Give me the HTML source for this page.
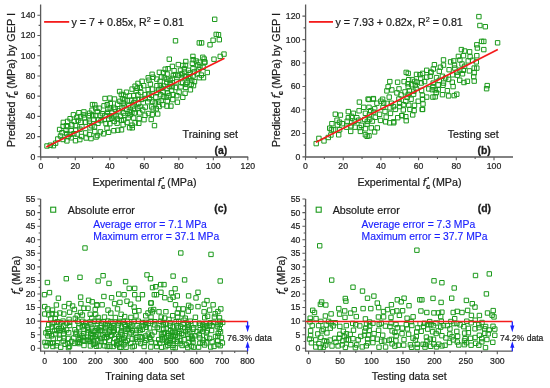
<!DOCTYPE html>
<html><head><meta charset="utf-8"><style>
html,body{margin:0;padding:0;background:#fff;width:550px;height:388px;overflow:hidden}
svg{display:block;will-change:transform}
text{font-family:"Liberation Sans",sans-serif;fill:#1c1c1c;stroke:#1c1c1c;stroke-width:0.2px}
.tk{font-size:8.7px;stroke-width:0.2px}
.ti{font-size:10.7px;stroke-width:0.22px}
.lb{font-size:10.4px;font-weight:bold;stroke-width:0.3px}
.bl{font-size:10.38px;fill:#1c22ff;stroke:#1c22ff;stroke-width:0.15px}
.sm{font-size:8.5px}
</style></head><body>
<svg width="550" height="388" viewBox="0 0 550 388">
<path d="M102.2 117.3h4.4v4.4h-4.4zM121.4 92.9h4.4v4.4h-4.4zM76.7 110.5h4.4v4.4h-4.4zM176.1 73.3h4.4v4.4h-4.4zM73.3 138.5h4.4v4.4h-4.4zM141.5 83.5h4.4v4.4h-4.4zM108.1 101.5h4.4v4.4h-4.4zM132.5 106.8h4.4v4.4h-4.4zM58.3 133.8h4.4v4.4h-4.4zM151.0 106.8h4.4v4.4h-4.4zM92.6 102.7h4.4v4.4h-4.4zM79.7 124.5h4.4v4.4h-4.4zM168.7 103.9h4.4v4.4h-4.4zM157.9 79.2h4.4v4.4h-4.4zM69.7 122.6h4.4v4.4h-4.4zM121.4 117.6h4.4v4.4h-4.4zM91.3 117.2h4.4v4.4h-4.4zM159.0 98.4h4.4v4.4h-4.4zM124.5 107.1h4.4v4.4h-4.4zM165.5 90.9h4.4v4.4h-4.4zM137.0 116.4h4.4v4.4h-4.4zM127.4 125.5h4.4v4.4h-4.4zM167.9 81.6h4.4v4.4h-4.4zM186.7 76.6h4.4v4.4h-4.4zM121.0 101.0h4.4v4.4h-4.4zM129.9 86.9h4.4v4.4h-4.4zM127.9 112.6h4.4v4.4h-4.4zM138.6 90.3h4.4v4.4h-4.4zM183.6 59.3h4.4v4.4h-4.4zM149.9 87.0h4.4v4.4h-4.4zM111.7 113.8h4.4v4.4h-4.4zM87.8 125.6h4.4v4.4h-4.4zM75.8 118.3h4.4v4.4h-4.4zM197.2 75.5h4.4v4.4h-4.4zM176.1 62.4h4.4v4.4h-4.4zM173.2 85.3h4.4v4.4h-4.4zM170.2 76.2h4.4v4.4h-4.4zM165.1 98.8h4.4v4.4h-4.4zM129.4 98.2h4.4v4.4h-4.4zM150.8 75.0h4.4v4.4h-4.4zM114.9 121.0h4.4v4.4h-4.4zM149.2 93.1h4.4v4.4h-4.4zM83.4 130.7h4.4v4.4h-4.4zM143.1 104.9h4.4v4.4h-4.4zM126.7 103.6h4.4v4.4h-4.4zM63.8 128.1h4.4v4.4h-4.4zM71.2 112.6h4.4v4.4h-4.4zM107.6 121.5h4.4v4.4h-4.4zM145.5 99.6h4.4v4.4h-4.4zM137.5 110.7h4.4v4.4h-4.4zM164.7 86.3h4.4v4.4h-4.4zM157.2 70.1h4.4v4.4h-4.4zM164.8 77.0h4.4v4.4h-4.4zM105.3 110.2h4.4v4.4h-4.4zM180.4 80.8h4.4v4.4h-4.4zM182.0 73.8h4.4v4.4h-4.4zM186.2 68.1h4.4v4.4h-4.4zM88.8 136.4h4.4v4.4h-4.4zM102.8 96.3h4.4v4.4h-4.4zM111.7 128.5h4.4v4.4h-4.4zM180.6 95.1h4.4v4.4h-4.4zM146.3 111.3h4.4v4.4h-4.4zM116.5 108.7h4.4v4.4h-4.4zM112.3 96.8h4.4v4.4h-4.4zM95.8 121.1h4.4v4.4h-4.4zM132.9 84.0h4.4v4.4h-4.4zM136.5 101.2h4.4v4.4h-4.4zM160.7 89.4h4.4v4.4h-4.4zM176.9 89.9h4.4v4.4h-4.4zM153.1 100.7h4.4v4.4h-4.4zM101.4 131.6h4.4v4.4h-4.4zM73.3 123.5h4.4v4.4h-4.4zM160.5 102.5h4.4v4.4h-4.4zM138.2 85.2h4.4v4.4h-4.4zM192.3 79.5h4.4v4.4h-4.4zM82.2 115.6h4.4v4.4h-4.4zM170.9 92.4h4.4v4.4h-4.4zM92.3 124.6h4.4v4.4h-4.4zM178.3 68.0h4.4v4.4h-4.4zM154.7 83.5h4.4v4.4h-4.4zM93.6 113.3h4.4v4.4h-4.4zM74.9 131.9h4.4v4.4h-4.4zM65.9 134.3h4.4v4.4h-4.4zM127.3 93.6h4.4v4.4h-4.4zM120.3 96.4h4.4v4.4h-4.4zM60.8 137.3h4.4v4.4h-4.4zM164.9 71.9h4.4v4.4h-4.4zM89.8 108.0h4.4v4.4h-4.4zM195.2 71.8h4.4v4.4h-4.4zM96.9 106.0h4.4v4.4h-4.4zM87.0 113.4h4.4v4.4h-4.4zM106.4 130.1h4.4v4.4h-4.4zM170.6 97.4h4.4v4.4h-4.4zM112.1 119.2h4.4v4.4h-4.4zM154.5 76.9h4.4v4.4h-4.4zM132.8 98.0h4.4v4.4h-4.4zM115.2 116.8h4.4v4.4h-4.4zM69.0 128.5h4.4v4.4h-4.4zM175.2 100.0h4.4v4.4h-4.4zM126.0 115.5h4.4v4.4h-4.4zM67.9 116.5h4.4v4.4h-4.4zM121.3 110.9h4.4v4.4h-4.4zM101.8 103.6h4.4v4.4h-4.4zM163.0 67.0h4.4v4.4h-4.4zM178.7 84.6h4.4v4.4h-4.4zM61.1 120.2h4.4v4.4h-4.4zM158.4 92.5h4.4v4.4h-4.4zM100.2 111.5h4.4v4.4h-4.4zM142.9 96.2h4.4v4.4h-4.4zM147.3 96.5h4.4v4.4h-4.4zM81.7 109.7h4.4v4.4h-4.4zM161.4 83.8h4.4v4.4h-4.4zM188.2 87.6h4.4v4.4h-4.4zM98.2 129.7h4.4v4.4h-4.4zM132.9 120.6h4.4v4.4h-4.4zM119.3 127.6h4.4v4.4h-4.4zM183.5 85.2h4.4v4.4h-4.4zM135.5 106.2h4.4v4.4h-4.4zM156.4 87.7h4.4v4.4h-4.4zM65.4 124.4h4.4v4.4h-4.4zM201.3 75.5h4.4v4.4h-4.4zM108.0 105.8h4.4v4.4h-4.4zM190.8 73.8h4.4v4.4h-4.4zM64.2 123.5h4.4v4.4h-4.4zM150.4 99.3h4.4v4.4h-4.4zM103.8 121.4h4.4v4.4h-4.4zM167.9 78.2h4.4v4.4h-4.4zM200.9 65.1h4.4v4.4h-4.4zM87.4 121.0h4.4v4.4h-4.4zM142.8 113.1h4.4v4.4h-4.4zM156.4 99.7h4.4v4.4h-4.4zM72.0 119.2h4.4v4.4h-4.4zM111.5 105.2h4.4v4.4h-4.4zM179.2 75.4h4.4v4.4h-4.4zM124.3 90.0h4.4v4.4h-4.4zM182.9 91.1h4.4v4.4h-4.4zM131.4 115.8h4.4v4.4h-4.4zM84.0 135.8h4.4v4.4h-4.4zM119.8 106.0h4.4v4.4h-4.4zM153.6 95.0h4.4v4.4h-4.4zM165.9 66.5h4.4v4.4h-4.4zM183.5 82.2h4.4v4.4h-4.4zM137.9 104.3h4.4v4.4h-4.4zM154.1 106.6h4.4v4.4h-4.4zM97.9 113.1h4.4v4.4h-4.4zM140.5 107.8h4.4v4.4h-4.4zM142.8 92.4h4.4v4.4h-4.4zM191.3 83.4h4.4v4.4h-4.4zM106.5 116.7h4.4v4.4h-4.4zM83.5 120.0h4.4v4.4h-4.4zM174.4 79.7h4.4v4.4h-4.4zM125.3 98.4h4.4v4.4h-4.4zM183.3 63.1h4.4v4.4h-4.4zM171.9 68.5h4.4v4.4h-4.4zM146.0 87.4h4.4v4.4h-4.4zM158.1 83.1h4.4v4.4h-4.4zM132.3 110.8h4.4v4.4h-4.4zM155.5 111.8h4.4v4.4h-4.4zM95.3 133.3h4.4v4.4h-4.4zM139.5 97.2h4.4v4.4h-4.4zM120.9 122.5h4.4v4.4h-4.4zM93.5 105.9h4.4v4.4h-4.4zM115.4 102.1h4.4v4.4h-4.4zM171.1 73.3h4.4v4.4h-4.4zM87.3 132.4h4.4v4.4h-4.4zM74.7 115.2h4.4v4.4h-4.4zM104.8 126.0h4.4v4.4h-4.4zM161.3 94.6h4.4v4.4h-4.4zM78.4 114.4h4.4v4.4h-4.4zM174.6 93.5h4.4v4.4h-4.4zM64.7 138.7h4.4v4.4h-4.4zM89.7 123.6h4.4v4.4h-4.4zM59.8 130.5h4.4v4.4h-4.4zM136.6 121.1h4.4v4.4h-4.4zM167.2 84.3h4.4v4.4h-4.4zM156.9 104.3h4.4v4.4h-4.4zM102.9 113.4h4.4v4.4h-4.4zM164.8 103.9h4.4v4.4h-4.4zM141.8 117.5h4.4v4.4h-4.4zM162.2 75.7h4.4v4.4h-4.4zM55.6 136.8h4.4v4.4h-4.4zM96.4 117.7h4.4v4.4h-4.4zM71.7 131.5h4.4v4.4h-4.4zM182.4 69.8h4.4v4.4h-4.4zM107.7 95.9h4.4v4.4h-4.4zM188.0 70.8h4.4v4.4h-4.4zM105.0 102.5h4.4v4.4h-4.4zM131.6 100.7h4.4v4.4h-4.4zM196.9 60.0h4.4v4.4h-4.4zM154.7 90.1h4.4v4.4h-4.4zM187.7 74.6h4.4v4.4h-4.4zM149.4 104.7h4.4v4.4h-4.4zM200.6 55.1h4.4v4.4h-4.4zM191.9 69.7h4.4v4.4h-4.4zM173.4 72.4h4.4v4.4h-4.4zM149.0 117.3h4.4v4.4h-4.4zM131.5 93.4h4.4v4.4h-4.4zM64.5 131.4h4.4v4.4h-4.4zM146.0 75.6h4.4v4.4h-4.4zM78.5 120.2h4.4v4.4h-4.4zM182.2 66.6h4.4v4.4h-4.4zM109.7 116.1h4.4v4.4h-4.4zM170.2 64.2h4.4v4.4h-4.4zM122.7 97.7h4.4v4.4h-4.4zM118.3 114.1h4.4v4.4h-4.4zM166.8 93.4h4.4v4.4h-4.4zM92.6 129.4h4.4v4.4h-4.4zM161.1 70.4h4.4v4.4h-4.4zM90.5 113.6h4.4v4.4h-4.4zM81.4 112.7h4.4v4.4h-4.4zM136.3 97.3h4.4v4.4h-4.4zM124.9 120.3h4.4v4.4h-4.4zM57.4 127.3h4.4v4.4h-4.4zM159.2 86.0h4.4v4.4h-4.4zM184.9 80.1h4.4v4.4h-4.4zM115.6 128.0h4.4v4.4h-4.4zM191.0 57.5h4.4v4.4h-4.4zM95.2 109.4h4.4v4.4h-4.4zM117.4 89.3h4.4v4.4h-4.4zM189.5 78.3h4.4v4.4h-4.4zM164.6 80.0h4.4v4.4h-4.4zM93.9 134.8h4.4v4.4h-4.4zM148.2 81.9h4.4v4.4h-4.4zM130.6 103.8h4.4v4.4h-4.4zM77.6 137.4h4.4v4.4h-4.4zM67.9 132.2h4.4v4.4h-4.4zM117.7 99.1h4.4v4.4h-4.4zM60.9 124.1h4.4v4.4h-4.4zM87.2 118.9h4.4v4.4h-4.4zM139.9 79.1h4.4v4.4h-4.4zM119.1 92.2h4.4v4.4h-4.4zM109.6 110.9h4.4v4.4h-4.4zM159.3 74.9h4.4v4.4h-4.4zM107.5 113.6h4.4v4.4h-4.4zM180.6 63.3h4.4v4.4h-4.4zM146.8 78.0h4.4v4.4h-4.4zM189.0 82.2h4.4v4.4h-4.4zM90.3 102.4h4.4v4.4h-4.4zM129.9 123.0h4.4v4.4h-4.4zM113.8 113.7h4.4v4.4h-4.4zM122.0 103.8h4.4v4.4h-4.4zM129.7 110.2h4.4v4.4h-4.4zM179.6 71.7h4.4v4.4h-4.4zM77.8 127.0h4.4v4.4h-4.4zM87.4 111.0h4.4v4.4h-4.4zM105.7 107.1h4.4v4.4h-4.4zM169.4 88.2h4.4v4.4h-4.4zM133.9 88.8h4.4v4.4h-4.4zM170.0 84.5h4.4v4.4h-4.4zM135.8 81.2h4.4v4.4h-4.4zM130.1 125.6h4.4v4.4h-4.4zM199.2 72.9h4.4v4.4h-4.4zM73.6 127.9h4.4v4.4h-4.4zM135.1 86.1h4.4v4.4h-4.4zM150.0 112.4h4.4v4.4h-4.4zM98.9 118.4h4.4v4.4h-4.4zM69.0 135.6h4.4v4.4h-4.4zM119.0 118.0h4.4v4.4h-4.4zM122.7 113.3h4.4v4.4h-4.4zM164.3 95.0h4.4v4.4h-4.4zM79.4 134.3h4.4v4.4h-4.4zM196.6 67.4h4.4v4.4h-4.4zM135.7 92.7h4.4v4.4h-4.4zM149.9 72.1h4.4v4.4h-4.4zM65.4 119.2h4.4v4.4h-4.4zM202.0 56.8h4.4v4.4h-4.4zM127.1 109.4h4.4v4.4h-4.4zM146.6 92.1h4.4v4.4h-4.4zM184.1 74.6h4.4v4.4h-4.4zM113.0 106.9h4.4v4.4h-4.4zM212.5 17.1h4.4v4.4h-4.4zM214.0 32.2h4.4v4.4h-4.4zM216.3 32.5h4.4v4.4h-4.4zM210.9 38.0h4.4v4.4h-4.4zM217.1 37.5h4.4v4.4h-4.4zM207.8 42.6h4.4v4.4h-4.4zM197.1 40.7h4.4v4.4h-4.4zM199.4 40.7h4.4v4.4h-4.4zM211.8 57.0h4.4v4.4h-4.4zM218.0 54.2h4.4v4.4h-4.4zM221.8 51.9h4.4v4.4h-4.4zM173.3 38.6h4.4v4.4h-4.4zM152.3 123.4h4.4v4.4h-4.4zM167.1 57.0h4.4v4.4h-4.4zM190.7 54.2h4.4v4.4h-4.4zM194.0 58.8h4.4v4.4h-4.4zM190.2 61.1h4.4v4.4h-4.4zM195.6 62.7h4.4v4.4h-4.4zM202.5 59.6h4.4v4.4h-4.4zM197.8 65.0h4.4v4.4h-4.4zM190.7 66.6h4.4v4.4h-4.4zM205.1 70.3h4.4v4.4h-4.4zM202.6 60.2h4.4v4.4h-4.4zM44.8 143.8h4.4v4.4h-4.4zM48.1 143.0h4.4v4.4h-4.4zM51.2 143.5h4.4v4.4h-4.4zM53.4 141.0h4.4v4.4h-4.4z" fill="none" stroke="#1c9a1c" stroke-width="1.0"/>
<path d="M411.4 92.0h4.4v4.4h-4.4zM431.1 66.8h4.4v4.4h-4.4zM406.1 92.2h4.4v4.4h-4.4zM364.9 121.9h4.4v4.4h-4.4zM457.5 78.0h4.4v4.4h-4.4zM413.9 86.1h4.4v4.4h-4.4zM415.0 80.0h4.4v4.4h-4.4zM420.2 93.1h4.4v4.4h-4.4zM434.3 75.4h4.4v4.4h-4.4zM408.9 97.0h4.4v4.4h-4.4zM406.6 103.0h4.4v4.4h-4.4zM410.5 112.7h4.4v4.4h-4.4zM372.5 106.6h4.4v4.4h-4.4zM401.1 107.7h4.4v4.4h-4.4zM460.3 71.6h4.4v4.4h-4.4zM470.4 58.1h4.4v4.4h-4.4zM465.2 79.1h4.4v4.4h-4.4zM446.9 67.5h4.4v4.4h-4.4zM373.1 115.1h4.4v4.4h-4.4zM371.4 109.9h4.4v4.4h-4.4zM412.3 103.1h4.4v4.4h-4.4zM396.7 96.8h4.4v4.4h-4.4zM436.0 82.7h4.4v4.4h-4.4zM349.4 114.2h4.4v4.4h-4.4zM395.4 80.0h4.4v4.4h-4.4zM424.5 74.9h4.4v4.4h-4.4zM377.4 112.1h4.4v4.4h-4.4zM363.3 126.6h4.4v4.4h-4.4zM387.5 120.6h4.4v4.4h-4.4zM384.0 114.9h4.4v4.4h-4.4zM440.8 83.1h4.4v4.4h-4.4zM387.8 105.6h4.4v4.4h-4.4zM443.4 75.7h4.4v4.4h-4.4zM450.1 80.0h4.4v4.4h-4.4zM372.4 129.7h4.4v4.4h-4.4zM367.2 112.8h4.4v4.4h-4.4zM454.6 92.0h4.4v4.4h-4.4zM467.2 68.7h4.4v4.4h-4.4zM431.0 80.9h4.4v4.4h-4.4zM412.6 79.2h4.4v4.4h-4.4zM352.2 119.1h4.4v4.4h-4.4zM440.3 92.5h4.4v4.4h-4.4zM438.2 65.0h4.4v4.4h-4.4zM419.4 88.2h4.4v4.4h-4.4zM401.4 102.5h4.4v4.4h-4.4zM455.2 73.0h4.4v4.4h-4.4zM388.3 111.2h4.4v4.4h-4.4zM450.5 72.6h4.4v4.4h-4.4zM345.0 119.0h4.4v4.4h-4.4zM356.9 108.6h4.4v4.4h-4.4zM365.1 119.2h4.4v4.4h-4.4zM405.0 95.1h4.4v4.4h-4.4zM405.8 81.5h4.4v4.4h-4.4zM411.6 89.0h4.4v4.4h-4.4zM398.9 92.7h4.4v4.4h-4.4zM471.5 74.4h4.4v4.4h-4.4zM381.5 100.9h4.4v4.4h-4.4zM337.3 120.0h4.4v4.4h-4.4zM348.7 123.7h4.4v4.4h-4.4zM462.4 48.8h4.4v4.4h-4.4zM434.0 90.5h4.4v4.4h-4.4zM327.5 126.0h4.4v4.4h-4.4zM461.1 68.1h4.4v4.4h-4.4zM397.3 104.4h4.4v4.4h-4.4zM467.4 49.6h4.4v4.4h-4.4zM409.5 82.6h4.4v4.4h-4.4zM462.4 64.1h4.4v4.4h-4.4zM432.2 62.5h4.4v4.4h-4.4zM367.5 116.9h4.4v4.4h-4.4zM433.0 87.7h4.4v4.4h-4.4zM380.4 97.0h4.4v4.4h-4.4zM406.5 77.5h4.4v4.4h-4.4zM417.7 72.5h4.4v4.4h-4.4zM420.8 101.8h4.4v4.4h-4.4zM335.2 122.8h4.4v4.4h-4.4zM428.0 74.0h4.4v4.4h-4.4zM391.2 104.4h4.4v4.4h-4.4zM413.1 83.0h4.4v4.4h-4.4zM452.3 62.9h4.4v4.4h-4.4zM357.4 125.4h4.4v4.4h-4.4zM378.3 118.2h4.4v4.4h-4.4zM329.2 127.6h4.4v4.4h-4.4zM419.0 80.8h4.4v4.4h-4.4zM457.7 57.8h4.4v4.4h-4.4zM385.0 101.1h4.4v4.4h-4.4zM476.7 14.4h4.4v4.4h-4.4zM477.7 23.3h4.4v4.4h-4.4zM483.1 24.5h4.4v4.4h-4.4zM495.4 40.6h4.4v4.4h-4.4zM479.4 39.2h4.4v4.4h-4.4zM481.6 39.2h4.4v4.4h-4.4zM474.6 42.6h4.4v4.4h-4.4zM475.2 45.8h4.4v4.4h-4.4zM481.6 47.4h4.4v4.4h-4.4zM459.2 47.4h4.4v4.4h-4.4zM456.2 54.2h4.4v4.4h-4.4zM461.3 53.5h4.4v4.4h-4.4zM467.9 54.6h4.4v4.4h-4.4zM474.6 53.5h4.4v4.4h-4.4zM466.0 58.7h4.4v4.4h-4.4zM474.1 59.7h4.4v4.4h-4.4zM441.3 57.7h4.4v4.4h-4.4zM448.4 59.7h4.4v4.4h-4.4zM451.5 58.7h4.4v4.4h-4.4zM441.3 62.9h4.4v4.4h-4.4zM459.8 61.8h4.4v4.4h-4.4zM452.6 65.9h4.4v4.4h-4.4zM457.7 67.9h4.4v4.4h-4.4zM454.7 70.0h4.4v4.4h-4.4zM472.0 65.9h4.4v4.4h-4.4zM474.6 65.9h4.4v4.4h-4.4zM472.0 70.6h4.4v4.4h-4.4zM428.8 70.0h4.4v4.4h-4.4zM437.1 69.0h4.4v4.4h-4.4zM440.2 74.1h4.4v4.4h-4.4zM437.1 78.2h4.4v4.4h-4.4zM446.4 77.2h4.4v4.4h-4.4zM441.3 80.9h4.4v4.4h-4.4zM461.8 80.3h4.4v4.4h-4.4zM472.0 78.9h4.4v4.4h-4.4zM485.0 83.4h4.4v4.4h-4.4zM484.4 86.5h4.4v4.4h-4.4zM430.0 87.5h4.4v4.4h-4.4zM436.0 87.5h4.4v4.4h-4.4zM433.0 94.6h4.4v4.4h-4.4zM445.2 88.5h4.4v4.4h-4.4zM450.9 84.4h4.4v4.4h-4.4zM446.4 93.7h4.4v4.4h-4.4zM452.0 93.4h4.4v4.4h-4.4zM314.0 141.4h4.4v4.4h-4.4zM316.7 136.2h4.4v4.4h-4.4zM321.8 138.7h4.4v4.4h-4.4zM326.1 135.3h4.4v4.4h-4.4zM328.7 132.8h4.4v4.4h-4.4zM329.7 121.5h4.4v4.4h-4.4zM333.1 112.0h4.4v4.4h-4.4zM338.2 112.9h4.4v4.4h-4.4zM334.8 118.0h4.4v4.4h-4.4zM340.1 121.5h4.4v4.4h-4.4zM337.4 127.6h4.4v4.4h-4.4zM331.4 127.6h4.4v4.4h-4.4zM336.5 132.6h4.4v4.4h-4.4zM346.1 109.4h4.4v4.4h-4.4zM351.2 111.1h4.4v4.4h-4.4zM346.1 115.5h4.4v4.4h-4.4zM349.5 120.6h4.4v4.4h-4.4zM344.4 125.0h4.4v4.4h-4.4zM352.9 125.0h4.4v4.4h-4.4zM348.5 129.2h4.4v4.4h-4.4zM356.5 118.0h4.4v4.4h-4.4zM357.2 99.9h4.4v4.4h-4.4zM359.1 123.1h4.4v4.4h-4.4zM358.2 129.2h4.4v4.4h-4.4zM363.2 132.6h4.4v4.4h-4.4zM366.8 133.6h4.4v4.4h-4.4zM361.5 105.1h4.4v4.4h-4.4zM366.8 105.1h4.4v4.4h-4.4zM363.2 111.1h4.4v4.4h-4.4zM368.5 108.5h4.4v4.4h-4.4zM370.2 118.9h4.4v4.4h-4.4zM371.2 96.4h4.4v4.4h-4.4zM366.8 97.3h4.4v4.4h-4.4zM362.5 117.3h4.4v4.4h-4.4zM354.6 115.5h4.4v4.4h-4.4zM365.9 96.9h4.4v4.4h-4.4zM371.0 96.9h4.4v4.4h-4.4zM387.6 79.4h4.4v4.4h-4.4zM385.9 84.6h4.4v4.4h-4.4zM384.7 88.7h4.4v4.4h-4.4zM389.6 87.7h4.4v4.4h-4.4zM396.8 86.7h4.4v4.4h-4.4zM394.7 90.7h4.4v4.4h-4.4zM401.9 79.4h4.4v4.4h-4.4zM406.0 84.6h4.4v4.4h-4.4zM407.2 88.7h4.4v4.4h-4.4zM402.8 89.7h4.4v4.4h-4.4zM410.2 77.4h4.4v4.4h-4.4zM414.3 72.2h4.4v4.4h-4.4zM406.0 71.2h4.4v4.4h-4.4zM404.0 70.2h4.4v4.4h-4.4zM418.5 76.2h4.4v4.4h-4.4zM422.4 79.4h4.4v4.4h-4.4zM424.5 68.1h4.4v4.4h-4.4zM428.7 70.2h4.4v4.4h-4.4zM420.4 71.2h4.4v4.4h-4.4zM426.6 86.7h4.4v4.4h-4.4zM430.7 84.6h4.4v4.4h-4.4zM424.5 94.9h4.4v4.4h-4.4zM420.4 96.9h4.4v4.4h-4.4zM430.7 94.9h4.4v4.4h-4.4zM364.9 134.1h4.4v4.4h-4.4zM369.1 125.7h4.4v4.4h-4.4zM375.1 125.7h4.4v4.4h-4.4zM383.4 119.6h4.4v4.4h-4.4zM391.5 120.6h4.4v4.4h-4.4zM404.0 118.5h4.4v4.4h-4.4zM399.8 113.4h4.4v4.4h-4.4zM420.4 107.2h4.4v4.4h-4.4zM374.7 101.0h4.4v4.4h-4.4zM378.7 99.0h4.4v4.4h-4.4zM380.8 105.2h4.4v4.4h-4.4zM387.0 94.9h4.4v4.4h-4.4zM389.1 101.0h4.4v4.4h-4.4zM382.8 109.3h4.4v4.4h-4.4zM393.2 107.2h4.4v4.4h-4.4zM397.4 101.0h4.4v4.4h-4.4zM403.6 99.0h4.4v4.4h-4.4zM407.7 107.2h4.4v4.4h-4.4zM399.6 113.4h4.4v4.4h-4.4zM395.5 115.5h4.4v4.4h-4.4zM391.5 119.6h4.4v4.4h-4.4zM403.6 114.5h4.4v4.4h-4.4zM411.9 108.4h4.4v4.4h-4.4zM416.0 99.0h4.4v4.4h-4.4zM420.0 107.2h4.4v4.4h-4.4z" fill="none" stroke="#1c9a1c" stroke-width="1.0"/>
<path d="" fill="none" stroke="#1c9a1c" stroke-width="1.0"/>
<path d="" fill="none" stroke="#1c9a1c" stroke-width="1.0"/>
<path d="M82.8 245.8h4.4v4.4h-4.4zM178.6 250.8h4.4v4.4h-4.4zM208.8 252.2h4.4v4.4h-4.4zM45.2 280.3h4.4v4.4h-4.4zM64.1 276.5h4.4v4.4h-4.4zM77.8 275.1h4.4v4.4h-4.4zM95.9 278.8h4.4v4.4h-4.4zM42.3 292.5h4.4v4.4h-4.4zM47.3 290.4h4.4v4.4h-4.4zM56.2 296.0h4.4v4.4h-4.4zM78.4 294.9h4.4v4.4h-4.4zM42.5 304.4h4.4v4.4h-4.4zM45.5 306.7h4.4v4.4h-4.4zM50.3 307.9h4.4v4.4h-4.4zM54.2 302.8h4.4v4.4h-4.4zM62.1 304.4h4.4v4.4h-4.4zM66.8 301.4h4.4v4.4h-4.4zM70.4 303.8h4.4v4.4h-4.4zM72.2 307.3h4.4v4.4h-4.4zM78.7 301.4h4.4v4.4h-4.4zM86.4 298.1h4.4v4.4h-4.4zM90.0 299.6h4.4v4.4h-4.4zM94.8 303.2h4.4v4.4h-4.4zM85.8 306.1h4.4v4.4h-4.4zM81.7 306.1h4.4v4.4h-4.4zM93.0 307.3h4.4v4.4h-4.4zM100.9 273.5h4.4v4.4h-4.4zM106.8 281.2h4.4v4.4h-4.4zM123.4 279.4h4.4v4.4h-4.4zM144.8 272.7h4.4v4.4h-4.4zM148.3 276.5h4.4v4.4h-4.4zM127.0 286.2h4.4v4.4h-4.4zM132.5 286.2h4.4v4.4h-4.4zM150.3 285.4h4.4v4.4h-4.4zM101.7 294.3h4.4v4.4h-4.4zM109.4 295.5h4.4v4.4h-4.4zM116.5 291.9h4.4v4.4h-4.4zM121.9 292.5h4.4v4.4h-4.4zM132.5 292.5h4.4v4.4h-4.4zM140.2 292.5h4.4v4.4h-4.4zM136.1 296.6h4.4v4.4h-4.4zM152.1 292.5h4.4v4.4h-4.4zM99.9 302.6h4.4v4.4h-4.4zM94.6 302.6h4.4v4.4h-4.4zM117.7 300.2h4.4v4.4h-4.4zM112.4 301.4h4.4v4.4h-4.4zM124.8 299.0h4.4v4.4h-4.4zM128.4 302.0h4.4v4.4h-4.4zM148.6 300.8h4.4v4.4h-4.4zM115.3 306.7h4.4v4.4h-4.4zM131.9 304.9h4.4v4.4h-4.4zM105.8 307.9h4.4v4.4h-4.4zM136.7 308.5h4.4v4.4h-4.4zM148.6 307.9h4.4v4.4h-4.4zM170.9 273.9h4.4v4.4h-4.4zM182.4 277.7h4.4v4.4h-4.4zM153.5 284.5h4.4v4.4h-4.4zM158.5 282.4h4.4v4.4h-4.4zM161.8 282.4h4.4v4.4h-4.4zM172.9 286.6h4.4v4.4h-4.4zM154.3 292.5h4.4v4.4h-4.4zM158.7 290.1h4.4v4.4h-4.4zM169.2 290.7h4.4v4.4h-4.4zM162.6 295.5h4.4v4.4h-4.4zM170.9 294.9h4.4v4.4h-4.4zM175.1 293.7h4.4v4.4h-4.4zM168.0 297.2h4.4v4.4h-4.4zM186.4 293.7h4.4v4.4h-4.4zM195.8 290.1h4.4v4.4h-4.4zM193.8 295.7h4.4v4.4h-4.4zM149.0 300.8h4.4v4.4h-4.4zM173.3 302.6h4.4v4.4h-4.4zM186.4 303.2h4.4v4.4h-4.4zM195.8 304.4h4.4v4.4h-4.4zM204.8 298.4h4.4v4.4h-4.4zM151.4 307.3h4.4v4.4h-4.4zM176.3 306.7h4.4v4.4h-4.4zM181.0 306.7h4.4v4.4h-4.4zM188.7 304.9h4.4v4.4h-4.4zM218.0 278.8h4.4v4.4h-4.4zM210.9 302.6h4.4v4.4h-4.4zM202.0 302.0h4.4v4.4h-4.4zM218.6 306.7h4.4v4.4h-4.4zM207.4 307.9h4.4v4.4h-4.4zM168.3 328.5h4.4v4.4h-4.4zM53.8 324.4h4.4v4.4h-4.4zM90.8 332.5h4.4v4.4h-4.4zM140.2 327.1h4.4v4.4h-4.4zM204.5 335.1h4.4v4.4h-4.4zM175.0 339.3h4.4v4.4h-4.4zM72.4 341.2h4.4v4.4h-4.4zM107.8 344.2h4.4v4.4h-4.4zM176.4 319.1h4.4v4.4h-4.4zM130.2 344.6h4.4v4.4h-4.4zM72.7 327.5h4.4v4.4h-4.4zM155.1 325.3h4.4v4.4h-4.4zM171.0 334.5h4.4v4.4h-4.4zM127.4 331.6h4.4v4.4h-4.4zM147.4 325.8h4.4v4.4h-4.4zM44.0 343.7h4.4v4.4h-4.4zM55.4 340.7h4.4v4.4h-4.4zM191.5 325.5h4.4v4.4h-4.4zM185.6 345.4h4.4v4.4h-4.4zM113.7 332.2h4.4v4.4h-4.4zM43.7 330.7h4.4v4.4h-4.4zM215.2 324.4h4.4v4.4h-4.4zM88.2 343.7h4.4v4.4h-4.4zM163.7 321.9h4.4v4.4h-4.4zM190.8 339.9h4.4v4.4h-4.4zM103.0 322.3h4.4v4.4h-4.4zM122.6 322.5h4.4v4.4h-4.4zM219.2 335.3h4.4v4.4h-4.4zM98.7 336.3h4.4v4.4h-4.4zM149.0 339.8h4.4v4.4h-4.4zM53.6 331.6h4.4v4.4h-4.4zM201.1 326.4h4.4v4.4h-4.4zM196.4 344.9h4.4v4.4h-4.4zM131.9 319.3h4.4v4.4h-4.4zM64.4 327.7h4.4v4.4h-4.4zM50.7 344.3h4.4v4.4h-4.4zM81.8 343.3h4.4v4.4h-4.4zM197.7 335.7h4.4v4.4h-4.4zM181.3 332.6h4.4v4.4h-4.4zM80.5 319.1h4.4v4.4h-4.4zM133.2 337.2h4.4v4.4h-4.4zM98.3 328.3h4.4v4.4h-4.4zM154.5 344.4h4.4v4.4h-4.4zM185.6 327.4h4.4v4.4h-4.4zM125.1 338.3h4.4v4.4h-4.4zM65.9 336.3h4.4v4.4h-4.4zM94.8 325.9h4.4v4.4h-4.4zM140.1 320.3h4.4v4.4h-4.4zM215.5 338.8h4.4v4.4h-4.4zM49.4 333.6h4.4v4.4h-4.4zM186.0 321.5h4.4v4.4h-4.4zM49.9 321.6h4.4v4.4h-4.4zM178.5 324.2h4.4v4.4h-4.4zM88.2 339.2h4.4v4.4h-4.4zM156.5 337.4h4.4v4.4h-4.4zM207.4 336.2h4.4v4.4h-4.4zM81.8 327.2h4.4v4.4h-4.4zM111.4 323.4h4.4v4.4h-4.4zM114.5 342.6h4.4v4.4h-4.4zM66.3 345.4h4.4v4.4h-4.4zM168.1 338.2h4.4v4.4h-4.4zM117.1 336.7h4.4v4.4h-4.4zM197.0 321.0h4.4v4.4h-4.4zM141.9 344.3h4.4v4.4h-4.4zM46.5 322.4h4.4v4.4h-4.4zM95.8 332.9h4.4v4.4h-4.4zM220.5 320.2h4.4v4.4h-4.4zM181.0 321.9h4.4v4.4h-4.4zM218.3 329.5h4.4v4.4h-4.4zM78.0 335.3h4.4v4.4h-4.4zM173.9 319.5h4.4v4.4h-4.4zM211.8 344.2h4.4v4.4h-4.4zM57.2 332.8h4.4v4.4h-4.4zM162.3 330.6h4.4v4.4h-4.4zM64.6 320.9h4.4v4.4h-4.4zM202.4 342.8h4.4v4.4h-4.4zM102.8 330.1h4.4v4.4h-4.4zM77.6 339.9h4.4v4.4h-4.4zM166.3 333.5h4.4v4.4h-4.4zM66.5 330.5h4.4v4.4h-4.4zM146.1 331.9h4.4v4.4h-4.4zM117.5 319.2h4.4v4.4h-4.4zM186.9 340.0h4.4v4.4h-4.4zM61.1 338.9h4.4v4.4h-4.4zM134.9 323.4h4.4v4.4h-4.4zM102.3 343.6h4.4v4.4h-4.4zM128.5 324.7h4.4v4.4h-4.4zM54.2 343.5h4.4v4.4h-4.4zM176.8 331.5h4.4v4.4h-4.4zM211.5 320.2h4.4v4.4h-4.4zM213.3 334.3h4.4v4.4h-4.4zM148.6 344.8h4.4v4.4h-4.4zM175.3 334.8h4.4v4.4h-4.4zM89.6 325.9h4.4v4.4h-4.4zM119.4 328.4h4.4v4.4h-4.4zM164.5 339.6h4.4v4.4h-4.4zM177.9 341.4h4.4v4.4h-4.4zM109.7 333.0h4.4v4.4h-4.4zM45.7 333.7h4.4v4.4h-4.4zM136.1 319.0h4.4v4.4h-4.4zM138.4 341.3h4.4v4.4h-4.4zM135.7 339.7h4.4v4.4h-4.4zM143.6 338.0h4.4v4.4h-4.4zM128.6 341.2h4.4v4.4h-4.4zM112.4 336.3h4.4v4.4h-4.4zM58.5 345.0h4.4v4.4h-4.4zM73.4 331.8h4.4v4.4h-4.4zM209.4 328.3h4.4v4.4h-4.4zM158.3 319.1h4.4v4.4h-4.4zM108.8 325.0h4.4v4.4h-4.4zM82.5 323.5h4.4v4.4h-4.4zM55.1 319.6h4.4v4.4h-4.4zM107.2 338.3h4.4v4.4h-4.4zM67.4 323.3h4.4v4.4h-4.4zM152.6 319.5h4.4v4.4h-4.4zM173.0 345.5h4.4v4.4h-4.4zM118.6 330.7h4.4v4.4h-4.4zM194.8 329.6h4.4v4.4h-4.4zM105.7 318.9h4.4v4.4h-4.4zM162.4 336.8h4.4v4.4h-4.4zM185.7 332.1h4.4v4.4h-4.4zM102.1 339.6h4.4v4.4h-4.4zM209.9 339.6h4.4v4.4h-4.4zM207.9 320.6h4.4v4.4h-4.4zM170.9 324.7h4.4v4.4h-4.4zM123.9 345.0h4.4v4.4h-4.4zM204.3 323.6h4.4v4.4h-4.4zM92.3 319.1h4.4v4.4h-4.4zM157.5 341.0h4.4v4.4h-4.4zM107.0 330.1h4.4v4.4h-4.4zM156.9 326.9h4.4v4.4h-4.4zM122.1 335.9h4.4v4.4h-4.4zM75.4 319.0h4.4v4.4h-4.4zM192.6 333.6h4.4v4.4h-4.4zM152.2 329.8h4.4v4.4h-4.4zM148.7 319.2h4.4v4.4h-4.4zM65.9 341.4h4.4v4.4h-4.4zM209.9 323.5h4.4v4.4h-4.4zM51.0 336.7h4.4v4.4h-4.4zM58.0 328.3h4.4v4.4h-4.4zM159.3 332.1h4.4v4.4h-4.4zM163.5 344.5h4.4v4.4h-4.4zM93.0 334.3h4.4v4.4h-4.4zM96.4 327.7h4.4v4.4h-4.4zM183.4 329.4h4.4v4.4h-4.4zM77.2 341.4h4.4v4.4h-4.4zM171.0 338.7h4.4v4.4h-4.4zM130.3 328.5h4.4v4.4h-4.4zM197.9 327.5h4.4v4.4h-4.4zM138.0 334.5h4.4v4.4h-4.4zM45.3 340.5h4.4v4.4h-4.4zM71.6 335.8h4.4v4.4h-4.4zM125.2 319.2h4.4v4.4h-4.4zM58.7 320.4h4.4v4.4h-4.4zM57.4 336.2h4.4v4.4h-4.4zM170.8 343.0h4.4v4.4h-4.4zM87.9 319.8h4.4v4.4h-4.4zM61.2 328.6h4.4v4.4h-4.4zM94.2 344.1h4.4v4.4h-4.4zM118.9 345.1h4.4v4.4h-4.4zM165.6 338.3h4.4v4.4h-4.4zM76.9 321.5h4.4v4.4h-4.4zM173.2 330.3h4.4v4.4h-4.4zM153.9 340.8h4.4v4.4h-4.4zM96.9 343.8h4.4v4.4h-4.4zM132.1 343.9h4.4v4.4h-4.4zM50.2 324.8h4.4v4.4h-4.4zM111.4 340.8h4.4v4.4h-4.4zM218.0 343.5h4.4v4.4h-4.4zM159.5 345.0h4.4v4.4h-4.4zM189.3 343.9h4.4v4.4h-4.4zM126.9 321.6h4.4v4.4h-4.4zM140.3 335.3h4.4v4.4h-4.4zM85.8 327.8h4.4v4.4h-4.4zM123.5 326.7h4.4v4.4h-4.4zM99.0 321.0h4.4v4.4h-4.4zM143.5 320.1h4.4v4.4h-4.4zM52.1 320.4h4.4v4.4h-4.4zM181.8 337.4h4.4v4.4h-4.4zM104.6 335.3h4.4v4.4h-4.4zM98.9 339.0h4.4v4.4h-4.4zM69.5 339.3h4.4v4.4h-4.4zM86.0 337.3h4.4v4.4h-4.4zM215.8 342.4h4.4v4.4h-4.4zM202.6 324.7h4.4v4.4h-4.4zM101.2 319.5h4.4v4.4h-4.4zM197.7 341.0h4.4v4.4h-4.4zM100.9 332.8h4.4v4.4h-4.4zM193.1 321.6h4.4v4.4h-4.4zM169.9 330.7h4.4v4.4h-4.4zM187.5 329.7h4.4v4.4h-4.4zM176.1 325.7h4.4v4.4h-4.4zM52.4 328.2h4.4v4.4h-4.4zM144.0 325.1h4.4v4.4h-4.4zM203.9 321.4h4.4v4.4h-4.4zM176.8 329.3h4.4v4.4h-4.4zM165.6 343.0h4.4v4.4h-4.4zM61.9 335.9h4.4v4.4h-4.4zM116.1 320.7h4.4v4.4h-4.4zM82.8 338.8h4.4v4.4h-4.4zM217.6 319.0h4.4v4.4h-4.4zM90.7 329.1h4.4v4.4h-4.4zM215.8 321.8h4.4v4.4h-4.4zM121.7 342.5h4.4v4.4h-4.4zM54.7 328.4h4.4v4.4h-4.4zM116.7 341.7h4.4v4.4h-4.4zM112.1 328.1h4.4v4.4h-4.4zM205.2 328.7h4.4v4.4h-4.4zM189.3 334.0h4.4v4.4h-4.4zM152.6 322.6h4.4v4.4h-4.4zM111.0 344.3h4.4v4.4h-4.4zM119.9 332.2h4.4v4.4h-4.4zM46.2 329.6h4.4v4.4h-4.4zM121.1 319.7h4.4v4.4h-4.4zM60.8 318.9h4.4v4.4h-4.4zM95.1 321.7h4.4v4.4h-4.4zM91.5 338.7h4.4v4.4h-4.4zM105.1 332.1h4.4v4.4h-4.4zM114.6 339.3h4.4v4.4h-4.4zM167.9 323.3h4.4v4.4h-4.4zM149.6 332.9h4.4v4.4h-4.4zM170.8 329.0h4.4v4.4h-4.4zM200.6 322.8h4.4v4.4h-4.4zM85.3 330.6h4.4v4.4h-4.4zM146.3 321.1h4.4v4.4h-4.4zM133.6 331.0h4.4v4.4h-4.4zM67.3 344.2h4.4v4.4h-4.4zM182.5 325.6h4.4v4.4h-4.4zM93.0 341.0h4.4v4.4h-4.4zM207.2 323.2h4.4v4.4h-4.4zM164.1 325.9h4.4v4.4h-4.4zM119.3 325.0h4.4v4.4h-4.4zM217.1 327.1h4.4v4.4h-4.4zM102.1 335.6h4.4v4.4h-4.4zM107.2 327.6h4.4v4.4h-4.4zM167.9 320.7h4.4v4.4h-4.4zM179.5 331.2h4.4v4.4h-4.4zM170.7 345.3h4.4v4.4h-4.4zM143.6 333.8h4.4v4.4h-4.4zM48.2 341.3h4.4v4.4h-4.4zM174.5 323.7h4.4v4.4h-4.4zM178.4 338.3h4.4v4.4h-4.4zM161.2 322.6h4.4v4.4h-4.4zM80.6 338.4h4.4v4.4h-4.4zM76.5 325.4h4.4v4.4h-4.4zM129.7 322.8h4.4v4.4h-4.4zM88.5 331.6h4.4v4.4h-4.4zM108.4 333.3h4.4v4.4h-4.4zM83.5 320.3h4.4v4.4h-4.4zM75.3 340.2h4.4v4.4h-4.4zM123.2 324.4h4.4v4.4h-4.4zM198.0 323.0h4.4v4.4h-4.4zM167.6 341.0h4.4v4.4h-4.4zM59.1 325.9h4.4v4.4h-4.4zM97.9 325.4h4.4v4.4h-4.4zM88.6 335.7h4.4v4.4h-4.4zM168.8 333.8h4.4v4.4h-4.4zM81.7 331.3h4.4v4.4h-4.4zM116.2 322.9h4.4v4.4h-4.4zM63.0 342.1h4.4v4.4h-4.4zM184.0 342.7h4.4v4.4h-4.4zM108.7 319.4h4.4v4.4h-4.4zM143.3 322.5h4.4v4.4h-4.4zM148.3 336.9h4.4v4.4h-4.4zM138.2 328.3h4.4v4.4h-4.4zM76.7 337.6h4.4v4.4h-4.4zM50.5 340.7h4.4v4.4h-4.4zM190.8 327.1h4.4v4.4h-4.4zM105.0 344.3h4.4v4.4h-4.4zM179.9 343.3h4.4v4.4h-4.4zM91.3 342.2h4.4v4.4h-4.4zM96.2 319.0h4.4v4.4h-4.4zM204.3 340.7h4.4v4.4h-4.4zM61.5 323.8h4.4v4.4h-4.4zM47.0 331.4h4.4v4.4h-4.4zM208.5 344.8h4.4v4.4h-4.4zM122.8 333.4h4.4v4.4h-4.4zM134.8 334.9h4.4v4.4h-4.4zM215.7 333.9h4.4v4.4h-4.4zM172.6 337.0h4.4v4.4h-4.4zM141.0 323.4h4.4v4.4h-4.4zM105.0 323.8h4.4v4.4h-4.4zM116.5 334.2h4.4v4.4h-4.4zM119.1 340.0h4.4v4.4h-4.4zM218.1 322.1h4.4v4.4h-4.4zM119.5 337.0h4.4v4.4h-4.4zM90.4 335.4h4.4v4.4h-4.4zM81.1 335.3h4.4v4.4h-4.4zM188.1 319.0h4.4v4.4h-4.4zM161.1 331.7h4.4v4.4h-4.4zM130.1 336.6h4.4v4.4h-4.4zM74.2 330.0h4.4v4.4h-4.4zM159.8 337.8h4.4v4.4h-4.4zM147.3 335.0h4.4v4.4h-4.4zM88.7 322.4h4.4v4.4h-4.4zM200.5 329.3h4.4v4.4h-4.4zM201.0 337.7h4.4v4.4h-4.4zM137.0 325.9h4.4v4.4h-4.4zM160.9 320.4h4.4v4.4h-4.4zM161.3 326.9h4.4v4.4h-4.4zM99.7 328.3h4.4v4.4h-4.4zM204.2 330.4h4.4v4.4h-4.4zM93.0 328.5h4.4v4.4h-4.4zM220.2 340.7h4.4v4.4h-4.4zM85.5 325.2h4.4v4.4h-4.4zM77.2 331.9h4.4v4.4h-4.4zM85.8 338.6h4.4v4.4h-4.4zM189.9 337.3h4.4v4.4h-4.4zM123.0 339.6h4.4v4.4h-4.4zM186.7 336.0h4.4v4.4h-4.4zM95.6 338.6h4.4v4.4h-4.4zM166.3 331.3h4.4v4.4h-4.4zM168.1 336.2h4.4v4.4h-4.4zM110.8 326.3h4.4v4.4h-4.4zM160.1 334.8h4.4v4.4h-4.4zM134.2 328.3h4.4v4.4h-4.4zM185.3 324.6h4.4v4.4h-4.4zM80.0 324.5h4.4v4.4h-4.4zM111.1 329.6h4.4v4.4h-4.4zM61.3 331.6h4.4v4.4h-4.4zM110.6 321.0h4.4v4.4h-4.4zM186.2 322.6h4.4v4.4h-4.4zM128.8 330.5h4.4v4.4h-4.4zM126.3 326.8h4.4v4.4h-4.4zM117.5 345.0h4.4v4.4h-4.4zM103.5 325.4h4.4v4.4h-4.4zM173.1 333.1h4.4v4.4h-4.4zM197.1 332.6h4.4v4.4h-4.4zM125.1 327.2h4.4v4.4h-4.4zM142.3 340.5h4.4v4.4h-4.4zM190.4 336.0h4.4v4.4h-4.4zM191.4 345.0h4.4v4.4h-4.4zM42.8 340.2h4.4v4.4h-4.4zM45.7 327.1h4.4v4.4h-4.4zM200.4 340.4h4.4v4.4h-4.4zM67.4 320.1h4.4v4.4h-4.4zM56.5 326.5h4.4v4.4h-4.4zM79.7 333.7h4.4v4.4h-4.4zM216.0 331.0h4.4v4.4h-4.4zM93.8 332.4h4.4v4.4h-4.4zM170.5 313.5h4.4v4.4h-4.4zM113.2 315.3h4.4v4.4h-4.4zM183.1 316.0h4.4v4.4h-4.4zM163.7 309.5h4.4v4.4h-4.4zM212.2 314.8h4.4v4.4h-4.4zM53.7 312.2h4.4v4.4h-4.4zM118.9 312.1h4.4v4.4h-4.4zM186.1 308.9h4.4v4.4h-4.4zM145.8 310.8h4.4v4.4h-4.4zM108.6 310.9h4.4v4.4h-4.4zM156.8 309.6h4.4v4.4h-4.4zM202.5 315.5h4.4v4.4h-4.4zM133.8 313.7h4.4v4.4h-4.4zM75.0 313.4h4.4v4.4h-4.4zM88.0 312.1h4.4v4.4h-4.4zM193.2 315.1h4.4v4.4h-4.4zM66.9 317.2h4.4v4.4h-4.4zM42.6 311.8h4.4v4.4h-4.4zM61.6 311.9h4.4v4.4h-4.4zM132.5 309.0h4.4v4.4h-4.4zM201.9 309.6h4.4v4.4h-4.4zM122.5 314.4h4.4v4.4h-4.4zM128.7 315.2h4.4v4.4h-4.4zM205.4 314.1h4.4v4.4h-4.4zM89.6 315.8h4.4v4.4h-4.4zM180.3 311.7h4.4v4.4h-4.4zM159.0 314.9h4.4v4.4h-4.4zM175.4 315.0h4.4v4.4h-4.4zM78.3 310.3h4.4v4.4h-4.4zM175.2 310.8h4.4v4.4h-4.4zM46.5 312.6h4.4v4.4h-4.4zM143.5 313.6h4.4v4.4h-4.4zM93.4 312.3h4.4v4.4h-4.4zM95.9 315.3h4.4v4.4h-4.4zM166.8 317.2h4.4v4.4h-4.4zM49.9 311.4h4.4v4.4h-4.4zM215.7 309.4h4.4v4.4h-4.4zM213.0 311.6h4.4v4.4h-4.4zM53.1 316.1h4.4v4.4h-4.4zM73.1 316.2h4.4v4.4h-4.4zM150.2 309.6h4.4v4.4h-4.4zM57.7 310.8h4.4v4.4h-4.4zM48.6 316.6h4.4v4.4h-4.4zM217.3 315.6h4.4v4.4h-4.4zM148.8 315.0h4.4v4.4h-4.4zM181.8 318.0h4.4v4.4h-4.4zM102.3 314.9h4.4v4.4h-4.4zM67.4 310.0h4.4v4.4h-4.4zM162.5 315.9h4.4v4.4h-4.4zM80.2 312.9h4.4v4.4h-4.4z" fill="none" stroke="#1c9a1c" stroke-width="1.0"/>
<path d="M317.5 243.6h4.4v4.4h-4.4zM414.7 248.0h4.4v4.4h-4.4zM329.5 277.9h4.4v4.4h-4.4zM350.8 285.0h4.4v4.4h-4.4zM360.3 288.9h4.4v4.4h-4.4zM365.3 296.0h4.4v4.4h-4.4zM371.7 293.9h4.4v4.4h-4.4zM319.4 299.8h4.4v4.4h-4.4zM318.2 302.2h4.4v4.4h-4.4zM323.6 302.8h4.4v4.4h-4.4zM343.1 296.3h4.4v4.4h-4.4zM343.7 298.9h4.4v4.4h-4.4zM310.5 308.1h4.4v4.4h-4.4zM312.3 310.3h4.4v4.4h-4.4zM336.6 306.4h4.4v4.4h-4.4zM342.5 308.7h4.4v4.4h-4.4zM352.0 307.5h4.4v4.4h-4.4zM360.9 306.4h4.4v4.4h-4.4zM328.9 311.7h4.4v4.4h-4.4zM375.1 300.9h4.4v4.4h-4.4zM389.2 302.5h4.4v4.4h-4.4zM395.1 297.6h4.4v4.4h-4.4zM399.0 299.6h4.4v4.4h-4.4zM401.9 296.0h4.4v4.4h-4.4zM406.8 303.5h4.4v4.4h-4.4zM368.6 306.4h4.4v4.4h-4.4zM376.4 305.4h4.4v4.4h-4.4zM385.3 307.4h4.4v4.4h-4.4zM381.3 309.4h4.4v4.4h-4.4zM417.6 297.6h4.4v4.4h-4.4zM431.8 278.6h4.4v4.4h-4.4zM439.7 280.5h4.4v4.4h-4.4zM452.0 285.8h4.4v4.4h-4.4zM419.7 297.6h4.4v4.4h-4.4zM430.8 296.2h4.4v4.4h-4.4zM438.9 300.2h4.4v4.4h-4.4zM449.5 296.0h4.4v4.4h-4.4zM464.2 298.2h4.4v4.4h-4.4zM470.1 301.5h4.4v4.4h-4.4zM473.3 273.3h4.4v4.4h-4.4zM424.6 310.3h4.4v4.4h-4.4zM436.3 310.7h4.4v4.4h-4.4zM451.0 310.3h4.4v4.4h-4.4zM459.8 310.3h4.4v4.4h-4.4zM487.1 271.7h4.4v4.4h-4.4zM484.2 291.7h4.4v4.4h-4.4zM472.8 304.9h4.4v4.4h-4.4zM491.0 308.4h4.4v4.4h-4.4zM430.4 329.6h4.4v4.4h-4.4zM350.5 321.2h4.4v4.4h-4.4zM473.5 341.1h4.4v4.4h-4.4zM307.8 319.6h4.4v4.4h-4.4zM376.4 328.1h4.4v4.4h-4.4zM327.9 337.9h4.4v4.4h-4.4zM400.1 325.9h4.4v4.4h-4.4zM457.9 322.6h4.4v4.4h-4.4zM492.6 326.9h4.4v4.4h-4.4zM330.9 323.6h4.4v4.4h-4.4zM382.2 338.7h4.4v4.4h-4.4zM344.2 331.6h4.4v4.4h-4.4zM363.6 325.8h4.4v4.4h-4.4zM451.2 337.7h4.4v4.4h-4.4zM316.7 341.4h4.4v4.4h-4.4zM436.6 342.0h4.4v4.4h-4.4zM476.8 325.4h4.4v4.4h-4.4zM413.2 337.9h4.4v4.4h-4.4zM389.9 328.7h4.4v4.4h-4.4zM477.2 333.1h4.4v4.4h-4.4zM376.8 345.0h4.4v4.4h-4.4zM466.2 330.5h4.4v4.4h-4.4zM354.5 342.7h4.4v4.4h-4.4zM462.2 342.5h4.4v4.4h-4.4zM483.4 324.3h4.4v4.4h-4.4zM396.3 343.0h4.4v4.4h-4.4zM428.4 344.1h4.4v4.4h-4.4zM393.8 322.3h4.4v4.4h-4.4zM370.7 340.4h4.4v4.4h-4.4zM388.8 320.8h4.4v4.4h-4.4zM484.7 337.3h4.4v4.4h-4.4zM336.9 335.9h4.4v4.4h-4.4zM492.6 333.1h4.4v4.4h-4.4zM350.8 336.5h4.4v4.4h-4.4zM307.3 336.8h4.4v4.4h-4.4zM315.6 331.7h4.4v4.4h-4.4zM421.4 324.2h4.4v4.4h-4.4zM401.8 337.4h4.4v4.4h-4.4zM340.0 342.6h4.4v4.4h-4.4zM348.6 342.5h4.4v4.4h-4.4zM438.5 324.9h4.4v4.4h-4.4zM357.6 323.7h4.4v4.4h-4.4zM456.6 342.8h4.4v4.4h-4.4zM420.9 342.1h4.4v4.4h-4.4zM389.1 337.2h4.4v4.4h-4.4zM375.0 336.9h4.4v4.4h-4.4zM439.1 319.1h4.4v4.4h-4.4zM370.7 321.0h4.4v4.4h-4.4zM439.7 333.5h4.4v4.4h-4.4zM431.6 341.9h4.4v4.4h-4.4zM358.6 334.2h4.4v4.4h-4.4zM424.2 334.9h4.4v4.4h-4.4zM448.7 319.3h4.4v4.4h-4.4zM428.1 336.9h4.4v4.4h-4.4zM479.6 339.7h4.4v4.4h-4.4zM364.1 343.6h4.4v4.4h-4.4zM318.6 319.2h4.4v4.4h-4.4zM389.9 341.6h4.4v4.4h-4.4zM324.7 330.7h4.4v4.4h-4.4zM322.1 338.6h4.4v4.4h-4.4zM321.2 345.0h4.4v4.4h-4.4zM464.6 319.0h4.4v4.4h-4.4zM409.6 323.3h4.4v4.4h-4.4zM434.3 344.7h4.4v4.4h-4.4zM337.6 324.2h4.4v4.4h-4.4zM344.1 323.4h4.4v4.4h-4.4zM487.0 327.8h4.4v4.4h-4.4zM333.8 339.9h4.4v4.4h-4.4zM414.5 329.8h4.4v4.4h-4.4zM383.2 323.9h4.4v4.4h-4.4zM406.4 332.0h4.4v4.4h-4.4zM472.8 326.6h4.4v4.4h-4.4zM399.8 331.5h4.4v4.4h-4.4zM367.0 328.2h4.4v4.4h-4.4zM462.9 336.5h4.4v4.4h-4.4zM447.6 331.9h4.4v4.4h-4.4zM337.6 332.1h4.4v4.4h-4.4zM466.2 326.2h4.4v4.4h-4.4zM310.0 323.4h4.4v4.4h-4.4zM482.6 331.1h4.4v4.4h-4.4zM425.5 326.9h4.4v4.4h-4.4zM427.5 319.4h4.4v4.4h-4.4zM329.8 343.8h4.4v4.4h-4.4zM367.3 319.8h4.4v4.4h-4.4zM379.4 339.1h4.4v4.4h-4.4zM351.3 328.0h4.4v4.4h-4.4zM313.6 344.8h4.4v4.4h-4.4zM431.3 323.5h4.4v4.4h-4.4zM490.6 340.1h4.4v4.4h-4.4zM401.5 342.9h4.4v4.4h-4.4zM341.2 329.1h4.4v4.4h-4.4zM366.3 332.9h4.4v4.4h-4.4zM443.7 335.7h4.4v4.4h-4.4zM380.5 333.0h4.4v4.4h-4.4zM447.3 340.3h4.4v4.4h-4.4zM356.0 337.6h4.4v4.4h-4.4zM425.4 322.4h4.4v4.4h-4.4zM370.8 336.2h4.4v4.4h-4.4zM408.2 342.6h4.4v4.4h-4.4zM342.2 334.3h4.4v4.4h-4.4zM364.3 321.9h4.4v4.4h-4.4zM365.4 336.8h4.4v4.4h-4.4zM323.5 342.8h4.4v4.4h-4.4zM454.6 329.2h4.4v4.4h-4.4zM321.2 327.0h4.4v4.4h-4.4zM404.1 322.5h4.4v4.4h-4.4zM433.7 320.8h4.4v4.4h-4.4zM308.4 333.4h4.4v4.4h-4.4zM379.1 320.9h4.4v4.4h-4.4zM410.8 335.9h4.4v4.4h-4.4zM461.6 324.5h4.4v4.4h-4.4zM362.3 332.9h4.4v4.4h-4.4zM371.9 331.4h4.4v4.4h-4.4zM486.0 331.6h4.4v4.4h-4.4zM328.1 326.0h4.4v4.4h-4.4zM318.7 335.2h4.4v4.4h-4.4zM472.9 335.3h4.4v4.4h-4.4zM419.0 329.1h4.4v4.4h-4.4zM423.3 342.3h4.4v4.4h-4.4zM308.4 328.6h4.4v4.4h-4.4zM479.5 336.4h4.4v4.4h-4.4zM328.9 320.6h4.4v4.4h-4.4zM405.2 326.7h4.4v4.4h-4.4zM353.5 322.5h4.4v4.4h-4.4zM409.4 345.1h4.4v4.4h-4.4zM439.8 343.7h4.4v4.4h-4.4zM365.6 340.8h4.4v4.4h-4.4zM445.2 323.4h4.4v4.4h-4.4zM324.0 322.9h4.4v4.4h-4.4zM367.5 323.6h4.4v4.4h-4.4zM340.7 338.7h4.4v4.4h-4.4zM454.7 321.3h4.4v4.4h-4.4zM309.2 340.6h4.4v4.4h-4.4zM417.9 321.5h4.4v4.4h-4.4zM313.5 337.7h4.4v4.4h-4.4zM476.6 343.0h4.4v4.4h-4.4zM394.0 333.5h4.4v4.4h-4.4zM348.0 332.2h4.4v4.4h-4.4zM468.9 343.0h4.4v4.4h-4.4zM455.4 334.1h4.4v4.4h-4.4zM415.0 342.0h4.4v4.4h-4.4zM490.8 324.1h4.4v4.4h-4.4zM415.0 345.3h4.4v4.4h-4.4zM344.1 337.4h4.4v4.4h-4.4zM392.7 330.2h4.4v4.4h-4.4zM377.0 322.2h4.4v4.4h-4.4zM469.0 320.6h4.4v4.4h-4.4zM392.7 343.9h4.4v4.4h-4.4zM395.2 325.5h4.4v4.4h-4.4zM316.4 323.4h4.4v4.4h-4.4zM479.8 320.3h4.4v4.4h-4.4zM353.2 345.4h4.4v4.4h-4.4zM441.3 323.4h4.4v4.4h-4.4zM436.2 328.7h4.4v4.4h-4.4zM462.3 338.7h4.4v4.4h-4.4zM464.3 340.5h4.4v4.4h-4.4zM451.7 321.4h4.4v4.4h-4.4zM362.7 329.0h4.4v4.4h-4.4zM468.4 336.1h4.4v4.4h-4.4zM447.7 326.7h4.4v4.4h-4.4zM346.3 337.8h4.4v4.4h-4.4zM483.3 345.4h4.4v4.4h-4.4zM387.8 324.3h4.4v4.4h-4.4zM422.2 321.1h4.4v4.4h-4.4zM335.9 343.7h4.4v4.4h-4.4zM332.6 336.2h4.4v4.4h-4.4zM424.8 338.8h4.4v4.4h-4.4zM415.3 325.7h4.4v4.4h-4.4zM409.0 319.4h4.4v4.4h-4.4zM455.1 339.8h4.4v4.4h-4.4zM324.6 339.4h4.4v4.4h-4.4zM482.4 326.7h4.4v4.4h-4.4zM387.1 338.0h4.4v4.4h-4.4zM360.1 344.7h4.4v4.4h-4.4zM333.1 320.5h4.4v4.4h-4.4zM442.9 343.0h4.4v4.4h-4.4zM428.6 322.4h4.4v4.4h-4.4zM343.2 345.2h4.4v4.4h-4.4zM431.3 337.1h4.4v4.4h-4.4zM318.1 345.3h4.4v4.4h-4.4zM476.6 322.6h4.4v4.4h-4.4zM449.9 334.6h4.4v4.4h-4.4zM326.4 319.2h4.4v4.4h-4.4zM414.1 334.3h4.4v4.4h-4.4zM393.7 338.7h4.4v4.4h-4.4zM319.7 328.7h4.4v4.4h-4.4zM462.4 330.9h4.4v4.4h-4.4zM433.9 331.3h4.4v4.4h-4.4zM383.4 344.8h4.4v4.4h-4.4zM422.8 344.9h4.4v4.4h-4.4zM477.2 313.3h4.4v4.4h-4.4zM397.2 313.1h4.4v4.4h-4.4zM404.9 316.0h4.4v4.4h-4.4zM469.2 313.2h4.4v4.4h-4.4zM400.4 308.5h4.4v4.4h-4.4zM376.2 314.8h4.4v4.4h-4.4zM410.9 314.6h4.4v4.4h-4.4zM485.3 310.8h4.4v4.4h-4.4zM489.9 313.0h4.4v4.4h-4.4zM381.4 314.7h4.4v4.4h-4.4zM337.4 311.9h4.4v4.4h-4.4zM390.6 309.6h4.4v4.4h-4.4zM431.7 310.7h4.4v4.4h-4.4zM418.7 308.8h4.4v4.4h-4.4zM473.0 318.0h4.4v4.4h-4.4zM452.5 316.5h4.4v4.4h-4.4zM438.5 314.4h4.4v4.4h-4.4zM348.4 310.9h4.4v4.4h-4.4zM354.1 314.4h4.4v4.4h-4.4zM308.0 316.0h4.4v4.4h-4.4zM388.8 315.2h4.4v4.4h-4.4zM342.8 315.2h4.4v4.4h-4.4zM323.2 313.8h4.4v4.4h-4.4zM491.8 314.7h4.4v4.4h-4.4zM313.8 316.4h4.4v4.4h-4.4zM363.2 316.7h4.4v4.4h-4.4zM394.6 308.7h4.4v4.4h-4.4zM465.4 308.2h4.4v4.4h-4.4zM455.0 309.2h4.4v4.4h-4.4zM439.7 310.0h4.4v4.4h-4.4z" fill="none" stroke="#1c9a1c" stroke-width="1.0"/>
<path d="M40.6 4.5V157.0H248.2" fill="none" stroke="#5a5a5a" stroke-width="1.3"/>
<path d="M37.4 156.80H40.6 M37.4 136.59H40.6 M37.4 116.37H40.6 M37.4 96.16H40.6 M37.4 75.94H40.6 M37.4 55.73H40.6 M37.4 35.52H40.6 M37.4 15.30H40.6 M38.6 146.69H40.6 M38.6 126.48H40.6 M38.6 106.27H40.6 M38.6 86.05H40.6 M38.6 65.84H40.6 M38.6 45.62H40.6 M38.6 25.41H40.6 M40.80 157.0V160.2 M75.30 157.0V160.2 M109.80 157.0V160.2 M144.30 157.0V160.2 M178.80 157.0V160.2 M213.30 157.0V160.2 M247.80 157.0V160.2 M58.05 157.0V159.0 M92.55 157.0V159.0 M127.05 157.0V159.0 M161.55 157.0V159.0 M196.05 157.0V159.0 M230.55 157.0V159.0" fill="none" stroke="#5a5a5a" stroke-width="1.1"/>
<text x="35.300000000000004" y="159.70" text-anchor="end" class="tk">0</text>
<text x="35.300000000000004" y="139.49" text-anchor="end" class="tk">20</text>
<text x="35.300000000000004" y="119.27" text-anchor="end" class="tk">40</text>
<text x="35.300000000000004" y="99.06" text-anchor="end" class="tk">60</text>
<text x="35.300000000000004" y="78.84" text-anchor="end" class="tk">80</text>
<text x="35.300000000000004" y="58.63" text-anchor="end" class="tk">100</text>
<text x="35.300000000000004" y="38.42" text-anchor="end" class="tk">120</text>
<text x="35.300000000000004" y="18.20" text-anchor="end" class="tk">140</text>
<text x="40.80" y="169.4" text-anchor="middle" class="tk">0</text>
<text x="75.30" y="169.4" text-anchor="middle" class="tk">20</text>
<text x="109.80" y="169.4" text-anchor="middle" class="tk">40</text>
<text x="144.30" y="169.4" text-anchor="middle" class="tk">60</text>
<text x="178.80" y="169.4" text-anchor="middle" class="tk">80</text>
<text x="213.30" y="169.4" text-anchor="middle" class="tk">100</text>
<text x="247.80" y="169.4" text-anchor="middle" class="tk">120</text>
<path d="M305.6 4.5V157.0H513.0" fill="none" stroke="#5a5a5a" stroke-width="1.3"/>
<path d="M302.40000000000003 156.90H305.6 M302.40000000000003 133.44H305.6 M302.40000000000003 109.98H305.6 M302.40000000000003 86.52H305.6 M302.40000000000003 63.06H305.6 M302.40000000000003 39.60H305.6 M302.40000000000003 16.14H305.6 M303.6 145.17H305.6 M303.6 121.71H305.6 M303.6 98.25H305.6 M303.6 74.79H305.6 M303.6 51.33H305.6 M303.6 27.87H305.6 M305.50 157.0V160.2 M343.20 157.0V160.2 M380.90 157.0V160.2 M418.60 157.0V160.2 M456.30 157.0V160.2 M494.00 157.0V160.2 M324.35 157.0V159.0 M362.05 157.0V159.0 M399.75 157.0V159.0 M437.45 157.0V159.0 M475.15 157.0V159.0" fill="none" stroke="#5a5a5a" stroke-width="1.1"/>
<text x="300.3" y="159.80" text-anchor="end" class="tk">0</text>
<text x="300.3" y="136.34" text-anchor="end" class="tk">20</text>
<text x="300.3" y="112.88" text-anchor="end" class="tk">40</text>
<text x="300.3" y="89.42" text-anchor="end" class="tk">60</text>
<text x="300.3" y="65.96" text-anchor="end" class="tk">80</text>
<text x="300.3" y="42.50" text-anchor="end" class="tk">100</text>
<text x="300.3" y="19.04" text-anchor="end" class="tk">120</text>
<text x="305.50" y="169.4" text-anchor="middle" class="tk">0</text>
<text x="343.20" y="169.4" text-anchor="middle" class="tk">20</text>
<text x="380.90" y="169.4" text-anchor="middle" class="tk">40</text>
<text x="418.60" y="169.4" text-anchor="middle" class="tk">60</text>
<text x="456.30" y="169.4" text-anchor="middle" class="tk">80</text>
<text x="494.00" y="169.4" text-anchor="middle" class="tk">100</text>
<path d="M40.6 199.0V351.1H247.8" fill="none" stroke="#5a5a5a" stroke-width="1.3"/>
<path d="M37.4 348.25H40.6 M37.4 334.69H40.6 M37.4 321.12H40.6 M37.4 307.56H40.6 M37.4 294.00H40.6 M37.4 280.43H40.6 M37.4 266.87H40.6 M37.4 253.31H40.6 M37.4 239.74H40.6 M37.4 226.18H40.6 M37.4 212.62H40.6 M37.4 199.05H40.6 M38.6 341.47H40.6 M38.6 327.90H40.6 M38.6 314.34H40.6 M38.6 300.78H40.6 M38.6 287.21H40.6 M38.6 273.65H40.6 M38.6 260.09H40.6 M38.6 246.52H40.6 M38.6 232.96H40.6 M38.6 219.40H40.6 M38.6 205.83H40.6 M44.60 351.1V354.3 M69.95 351.1V354.3 M95.30 351.1V354.3 M120.65 351.1V354.3 M146.00 351.1V354.3 M171.35 351.1V354.3 M196.70 351.1V354.3 M222.05 351.1V354.3 M247.40 351.1V354.3 M57.28 351.1V353.1 M82.62 351.1V353.1 M107.97 351.1V353.1 M133.32 351.1V353.1 M158.68 351.1V353.1 M184.03 351.1V353.1 M209.38 351.1V353.1 M234.72 351.1V353.1" fill="none" stroke="#5a5a5a" stroke-width="1.1"/>
<text x="35.300000000000004" y="351.15" text-anchor="end" class="tk">0</text>
<text x="35.300000000000004" y="337.59" text-anchor="end" class="tk">5</text>
<text x="35.300000000000004" y="324.02" text-anchor="end" class="tk">10</text>
<text x="35.300000000000004" y="310.46" text-anchor="end" class="tk">15</text>
<text x="35.300000000000004" y="296.90" text-anchor="end" class="tk">20</text>
<text x="35.300000000000004" y="283.33" text-anchor="end" class="tk">25</text>
<text x="35.300000000000004" y="269.77" text-anchor="end" class="tk">30</text>
<text x="35.300000000000004" y="256.21" text-anchor="end" class="tk">35</text>
<text x="35.300000000000004" y="242.64" text-anchor="end" class="tk">40</text>
<text x="35.300000000000004" y="229.08" text-anchor="end" class="tk">45</text>
<text x="35.300000000000004" y="215.52" text-anchor="end" class="tk">50</text>
<text x="35.300000000000004" y="201.95" text-anchor="end" class="tk">55</text>
<text x="44.60" y="363.5" text-anchor="middle" class="tk">0</text>
<text x="69.95" y="363.5" text-anchor="middle" class="tk">100</text>
<text x="95.30" y="363.5" text-anchor="middle" class="tk">200</text>
<text x="120.65" y="363.5" text-anchor="middle" class="tk">300</text>
<text x="146.00" y="363.5" text-anchor="middle" class="tk">400</text>
<text x="171.35" y="363.5" text-anchor="middle" class="tk">500</text>
<text x="196.70" y="363.5" text-anchor="middle" class="tk">600</text>
<text x="222.05" y="363.5" text-anchor="middle" class="tk">700</text>
<text x="247.40" y="363.5" text-anchor="middle" class="tk">800</text>
<path d="M305.6 199.0V351.1H512.6" fill="none" stroke="#5a5a5a" stroke-width="1.3"/>
<path d="M302.40000000000003 348.25H305.6 M302.40000000000003 334.69H305.6 M302.40000000000003 321.12H305.6 M302.40000000000003 307.56H305.6 M302.40000000000003 294.00H305.6 M302.40000000000003 280.43H305.6 M302.40000000000003 266.87H305.6 M302.40000000000003 253.31H305.6 M302.40000000000003 239.74H305.6 M302.40000000000003 226.18H305.6 M302.40000000000003 212.62H305.6 M302.40000000000003 199.05H305.6 M303.6 341.47H305.6 M303.6 327.90H305.6 M303.6 314.34H305.6 M303.6 300.78H305.6 M303.6 287.21H305.6 M303.6 273.65H305.6 M303.6 260.09H305.6 M303.6 246.52H305.6 M303.6 232.96H305.6 M303.6 219.40H305.6 M303.6 205.83H305.6 M308.60 351.1V354.3 M340.05 351.1V354.3 M371.50 351.1V354.3 M402.95 351.1V354.3 M434.40 351.1V354.3 M465.85 351.1V354.3 M497.30 351.1V354.3 M324.33 351.1V353.1 M355.78 351.1V353.1 M387.23 351.1V353.1 M418.68 351.1V353.1 M450.12 351.1V353.1 M481.58 351.1V353.1" fill="none" stroke="#5a5a5a" stroke-width="1.1"/>
<text x="300.3" y="351.15" text-anchor="end" class="tk">0</text>
<text x="300.3" y="337.59" text-anchor="end" class="tk">5</text>
<text x="300.3" y="324.02" text-anchor="end" class="tk">10</text>
<text x="300.3" y="310.46" text-anchor="end" class="tk">15</text>
<text x="300.3" y="296.90" text-anchor="end" class="tk">20</text>
<text x="300.3" y="283.33" text-anchor="end" class="tk">25</text>
<text x="300.3" y="269.77" text-anchor="end" class="tk">30</text>
<text x="300.3" y="256.21" text-anchor="end" class="tk">35</text>
<text x="300.3" y="242.64" text-anchor="end" class="tk">40</text>
<text x="300.3" y="229.08" text-anchor="end" class="tk">45</text>
<text x="300.3" y="215.52" text-anchor="end" class="tk">50</text>
<text x="300.3" y="201.95" text-anchor="end" class="tk">55</text>
<text x="308.60" y="363.5" text-anchor="middle" class="tk">0</text>
<text x="340.05" y="363.5" text-anchor="middle" class="tk">50</text>
<text x="371.50" y="363.5" text-anchor="middle" class="tk">100</text>
<text x="402.95" y="363.5" text-anchor="middle" class="tk">150</text>
<text x="434.40" y="363.5" text-anchor="middle" class="tk">200</text>
<text x="465.85" y="363.5" text-anchor="middle" class="tk">250</text>
<text x="497.30" y="363.5" text-anchor="middle" class="tk">300</text>
<line x1="46.3" y1="147.0" x2="224.5" y2="58.2" stroke="#f41c1c" stroke-width="1.7"/>
<line x1="315.9" y1="142.3" x2="497.8" y2="49.5" stroke="#f41c1c" stroke-width="1.7"/>
<line x1="44.1" y1="21.9" x2="69.2" y2="21.9" stroke="#f41c1c" stroke-width="1.8"/>
<line x1="308.9" y1="21.9" x2="333" y2="21.9" stroke="#f41c1c" stroke-width="1.8"/>
<text x="71.4" y="25.9" class="ti">y = 7 + 0.85x, R<tspan dy="-4.2" font-size="7.2">2</tspan><tspan dy="4.2"> = 0.81</tspan></text>
<text x="335.5" y="25.9" class="ti">y = 7.93 + 0.82x, R<tspan dy="-4.2" font-size="7.2">2</tspan><tspan dy="4.2"> = 0.81</tspan></text>
<text x="182.6" y="137.9" class="ti">Training set</text>
<text x="447.7" y="137.9" class="ti">Testing set</text>
<text x="220.9" y="153.8" class="lb" text-anchor="middle">(a)</text>
<text x="484.2" y="153.8" class="lb" text-anchor="middle">(b)</text>
<text x="220.6" y="212.0" class="lb" text-anchor="middle">(c)</text>
<text x="484.4" y="212.0" class="lb" text-anchor="middle">(d)</text>
<text x="92.4" y="186.3" class="ti">Experimental <tspan font-style="italic" font-size="11.5">f</tspan><tspan font-size="7.6" font-weight="bold" dx="0" dy="2.6">c</tspan><tspan font-size="8" font-weight="bold" dx="-3.0" dy="-7.2">′</tspan><tspan dy="4.6" dx="0.3"> (MPa)</tspan></text>
<text x="357.4" y="186.3" class="ti">Experimental <tspan font-style="italic" font-size="11.5">f</tspan><tspan font-size="7.6" font-weight="bold" dx="0" dy="2.6">c</tspan><tspan font-size="8" font-weight="bold" dx="-3.0" dy="-7.2">′</tspan><tspan dy="4.6" dx="0.3"> (MPa)</tspan></text>
<text transform="translate(15.3 147.2) rotate(-90)" class="ti" style="font-size:10.85px">Predicted <tspan font-style="italic" font-size="11.5">f</tspan><tspan font-size="7.6" font-weight="bold" dx="0" dy="2.6">c</tspan><tspan font-size="8" font-weight="bold" dx="-3.0" dy="-7.2">′</tspan><tspan dy="4.6" dx="0.3"> (MPa) by GEP I</tspan></text>
<text transform="translate(280.3 147.2) rotate(-90)" class="ti" style="font-size:10.85px">Predicted <tspan font-style="italic" font-size="11.5">f</tspan><tspan font-size="7.6" font-weight="bold" dx="0" dy="2.6">c</tspan><tspan font-size="8" font-weight="bold" dx="-3.0" dy="-7.2">′</tspan><tspan dy="4.6" dx="0.3"> (MPa) by GEP I</tspan></text>
<text transform="translate(20.1 294.6) rotate(-90)" class="ti"><tspan font-style="italic" font-size="11.5">f</tspan><tspan font-size="7.6" font-weight="bold" dx="0" dy="2.6">c</tspan><tspan font-size="8" font-weight="bold" dx="-3.0" dy="-7.2">′</tspan><tspan dy="4.6" dx="0.3"> (MPa)</tspan></text>
<text transform="translate(285.1 294.6) rotate(-90)" class="ti"><tspan font-style="italic" font-size="11.5">f</tspan><tspan font-size="7.6" font-weight="bold" dx="0" dy="2.6">c</tspan><tspan font-size="8" font-weight="bold" dx="-3.0" dy="-7.2">′</tspan><tspan dy="4.6" dx="0.3"> (MPa)</tspan></text>
<rect x="50.7" y="207.2" width="5" height="5" fill="none" stroke="#1c9a1c" stroke-width="1.1"/>
<text x="67.8" y="213.6" class="ti">Absolute error</text>
<rect x="316.2" y="207.2" width="5" height="5" fill="none" stroke="#1c9a1c" stroke-width="1.1"/>
<text x="332.7" y="213.6" class="ti">Absolute error</text>
<text x="93.2" y="227.5" class="bl">Average error = 7.1 MPa</text>
<text x="93.2" y="240.3" class="bl">Maximum error = 37.1 MPa</text>
<text x="361.5" y="227.5" class="bl">Average error = 7.3 MPa</text>
<text x="361.5" y="240.3" class="bl">Maximum error = 37.7 MPa</text>
<text x="105.2" y="379.7" class="ti">Training data set</text>
<text x="371.8" y="379.7" class="ti">Testing data set</text>
<line x1="40.6" y1="321.5" x2="247.6" y2="321.5" stroke="#f41c1c" stroke-width="1.5"/>
<line x1="305.6" y1="321.6" x2="512.3" y2="321.6" stroke="#f41c1c" stroke-width="1.5"/>
<path d="M247.6 321.5V327M247.6 351.2V346.5" stroke="#1c22ff" stroke-width="1.3" fill="none"/>
<path d="M245.5 325.6L249.7 325.6L247.6 332.2Z M245.5 347.8L249.7 347.8L247.6 341.2Z" fill="#1c22ff"/>
<path d="M512.3 321.5V327M512.3 351.2V346.5" stroke="#1c22ff" stroke-width="1.3" fill="none"/>
<path d="M510.19999999999993 325.6L514.4 325.6L512.3 332.2Z M510.19999999999993 347.8L514.4 347.8L512.3 341.2Z" fill="#1c22ff"/>
<text x="227" y="340.8" class="sm" style="font-size:8.9px">76.3% data</text>
<text x="499.9" y="340.9" class="sm" style="font-size:8.6px">74.2% data</text>
</svg></body></html>
